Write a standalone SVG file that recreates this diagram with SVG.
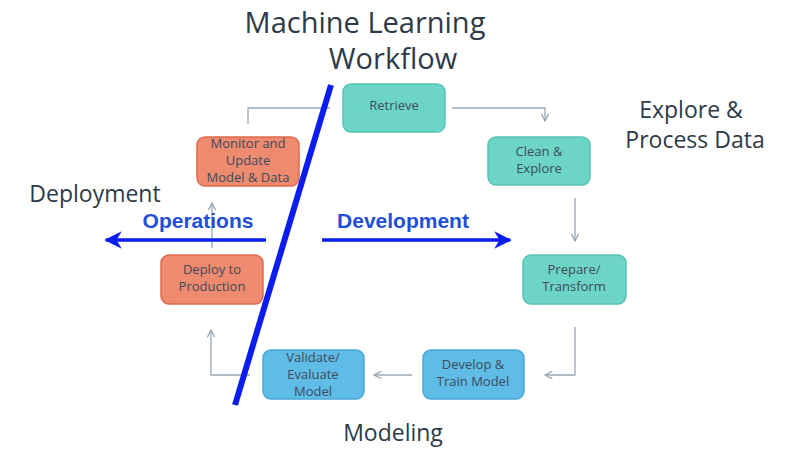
<svg xmlns="http://www.w3.org/2000/svg" width="800" height="462" viewBox="0 0 800 462">
<style>
.n{stroke-width:1.5}
.t{fill:#6dd5c7;stroke:#58c3b4}
.o{fill:#ee8a6e;stroke:#e06a4d}
.b{fill:#5fbce6;stroke:#48a7d6}
.l{font-family:"Open Sans",sans-serif;font-size:13px;fill:#3d4b5c;text-anchor:middle}
.h{font-family:"Open Sans",sans-serif;fill:#2e3a48;text-anchor:middle}
.c{fill:none;stroke:#9aa8b6;stroke-width:1.3}
.bl{font-family:"Liberation Sans",Arial,sans-serif;font-weight:bold;font-size:21px;fill:#1f4fd6;text-anchor:middle}
</style>
<defs>
<marker id="a" viewBox="0 0 10 10" refX="9" refY="5" markerWidth="7" markerHeight="7" orient="auto"><path d="M1,1 L9,5 L1,9" fill="none" stroke="#9aa8b6" stroke-width="1.5"/></marker>
<marker id="ba" viewBox="0 0 10 10" refX="9" refY="5" markerWidth="5" markerHeight="5" orient="auto"><path d="M0,0 L10,5 L0,10 L3,5 Z" fill="#0a1cf0"/></marker>
</defs>
<text class="h" x="365" y="33" font-size="29">Machine Learning</text>
<text class="h" x="393" y="69" font-size="29">Workflow</text>
<text class="h" x="691" y="118" font-size="23">Explore &amp;</text>
<text class="h" x="695" y="148" font-size="23">Process Data</text>
<text class="h" x="95" y="202" font-size="23">Deployment</text>
<text class="h" x="393" y="441" font-size="23">Modeling</text>
<g id="connectors">
<path class="c" d="M452,108 H545 V121" marker-end="url(#a)"/>
<path class="c" d="M575,198 V241" marker-end="url(#a)"/>
<path class="c" d="M575,327 V375 H545" marker-end="url(#a)"/>
<path class="c" d="M412,375 H374" marker-end="url(#a)"/>
<path class="c" d="M250,375 H211 V330" marker-end="url(#a)"/>
<path class="c" d="M212,248 V203" marker-end="url(#a)"/>
<path class="c" d="M248,124 V108 H330"/>
</g>
<g id="retrieve"><rect class="n t" x="343" y="84" width="102" height="48" rx="8"/><text class="l" x="394" y="110">Retrieve</text></g>
<g id="clean"><rect class="n t" x="488" y="137" width="102" height="48" rx="8"/><text class="l" x="539" y="156">Clean &amp;</text><text class="l" x="539" y="173">Explore</text></g>
<g id="prepare"><rect class="n t" x="523" y="255" width="103" height="49" rx="8"/><text class="l" x="574" y="274">Prepare/</text><text class="l" x="574" y="291">Transform</text></g>
<g id="develop"><rect class="n b" x="423" y="350" width="101" height="49" rx="8"/><text class="l" x="473" y="369">Develop &amp;</text><text class="l" x="473" y="386">Train Model</text></g>
<g id="validate"><rect class="n b" x="263" y="350" width="101" height="49" rx="8"/><text class="l" x="313" y="362">Validate/</text><text class="l" x="313" y="379">Evaluate</text><text class="l" x="313" y="396">Model</text></g>
<g id="deploy"><rect class="n o" x="161" y="255" width="102" height="49" rx="8"/><text class="l" x="212" y="274">Deploy to</text><text class="l" x="212" y="291">Production</text></g>
<g id="monitor"><rect class="n o" x="197" y="137" width="102" height="49" rx="8"/><text class="l" x="248" y="148">Monitor and</text><text class="l" x="248" y="165">Update</text><text class="l" x="248" y="182">Model &amp; Data</text></g>
<g id="divider">
<line x1="331" y1="85" x2="235" y2="405" stroke="#0a1cf0" stroke-width="6"/>
<line x1="266" y1="240" x2="106" y2="240" stroke="#0a1cf0" stroke-width="3.5" marker-end="url(#ba)"/>
<line x1="322" y1="240" x2="510" y2="240" stroke="#0a1cf0" stroke-width="3.5" marker-end="url(#ba)"/>
<text class="bl" x="198" y="228">Operations</text>
<text class="bl" x="403" y="228">Development</text>
</g>
</svg>
